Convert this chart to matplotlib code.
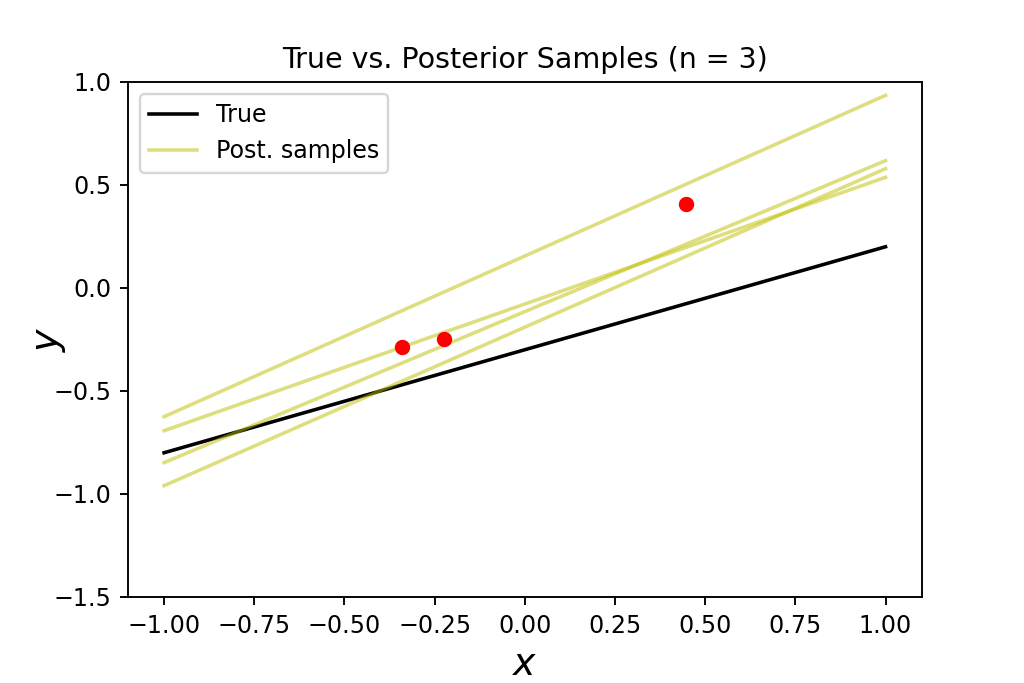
import matplotlib
matplotlib.use('Agg')
import matplotlib.pyplot as plt

# true line endpoints (x = -1, 1)
line_x = [-1.0, 1.0]
true_y = [-0.80, 0.20]

# posterior sample lines, values at x = -1 and x = 1
post_y = [
    [-0.625, 0.935],
    [-0.693, 0.537],
    [-0.848, 0.618],
    [-0.960, 0.579],
]

# observed points
obs_x = [-0.340, -0.224, 0.446]
obs_y = [-0.286, -0.246, 0.408]

dpi = 1024 / 6
fig = plt.figure(figsize=(6, 683 / dpi), dpi=dpi)
ax = fig.add_subplot(111)
fig.subplots_adjust(left=0.125, right=0.9, top=0.88, bottom=0.126)

ax.plot(line_x, true_y, c='k', label='True')
for i, ys in enumerate(post_y):
    ax.plot(line_x, ys, c='y', alpha=0.5, label='Post. samples' if i == 0 else None)
ax.scatter(obs_x, obs_y, c='r', s=30, zorder=3)

ax.set_ylim(-1.5, 1.0)
ax.set_xlabel('$x$', fontsize=16)
ax.set_ylabel('$y$', fontsize=16, labelpad=-6)
ax.set_title('True vs. Posterior Samples (n = 3)')
ax.legend(loc='upper left')

fig.savefig('out.png', dpi=dpi)
